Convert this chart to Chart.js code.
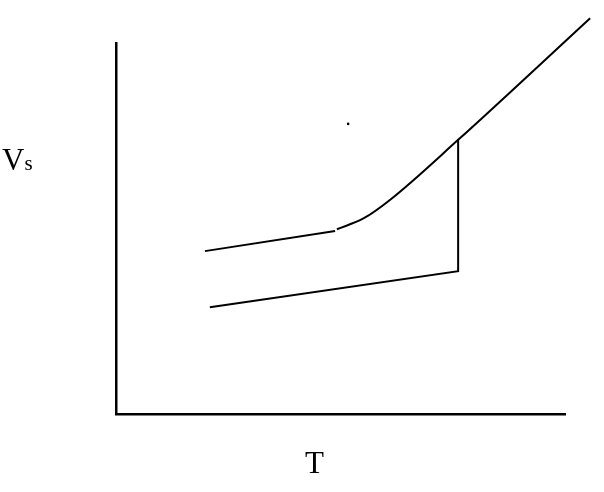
<!DOCTYPE html>
<html lang="en">
<head>
    <meta charset="UTF-8">
    <title>Vs against T</title>
    <script src="https://cdn.jsdelivr.net/npm/chart.js"></script>
<style>
    body { margin: 0; background: #fff; }
    #wrap { position: relative; width: 604px; height: 492px; }
    .lbl {
        position: absolute;
        font-family: "Liberation Serif", "DejaVu Serif", serif;
        font-size: 31px;
        line-height: 31px;
        color: #000;
        white-space: nowrap;
    }
    .lbl sub { font-size: 21px; vertical-align: baseline; }
</style>
</head>
<body>
    <div id="wrap">
        <canvas id="myChart"></canvas>
        <div class="lbl" style="left:2px; top:144px;">V<sub>s</sub></div>
        <div class="lbl" style="left:305px; top:447px;">T</div>
    </div>

    <script>
        // axis ranges (T across, Vs up)
        var tRange = [0, 10];
        var vRange = [0, 10];

        // lower straight branch, then the jump up at the right end
        var lowerT = [2.09, 7.62, 7.62];
        var lowerV = [2.88, 3.85, 7.41];

        // upper straight branch
        var upperT = [1.98, 4.88];
        var upperV = [4.39, 4.93];

        // upper branch bending into the steep line
        var bendT = [4.92, 5.51, 6.10, 7.62, 10.56];
        var bendV = [4.98, 5.27, 5.77, 7.39, 10.67];

        // stray dot
        var dotT = [5.17];
        var dotV = [7.82];

        function pts(xs, ys) {
            return xs.map(function (x, i) { return { x: x, y: ys[i] }; });
        }

        function lineSet(xs, ys, smooth) {
            return {
                data: pts(xs, ys),
                borderColor: '#000',
                borderWidth: 2,
                pointRadius: 0,
                showLine: true,
                fill: false,
                clip: false,
                capBezierPoints: false,
                tension: smooth ? 0.4 : 0,
                cubicInterpolationMode: smooth ? 'monotone' : 'default'
            };
        }

        var data = {
            datasets: [
                lineSet(lowerT, lowerV, false),
                lineSet(upperT, upperV, false),
                lineSet(bendT, bendV, true),
                {
                    data: pts(dotT, dotV),
                    backgroundColor: '#000',
                    borderWidth: 0,
                    pointRadius: 1.3,
                    showLine: false,
                    clip: false
                }
            ]
        };

        var options = {
            responsive: true,
            maintainAspectRatio: false,
            animation: false,
            layout: {
                padding: { left: 108, top: 43, right: 39, bottom: 70 }
            },
            plugins: {
                legend: { display: false },
                tooltip: { enabled: false }
            },
            scales: {
                x: {
                    type: 'linear',
                    min: tRange[0],
                    max: tRange[1],
                    ticks: { display: false },
                    grid: { display: false },
                    border: { display: true, color: '#000', width: 2.5 }
                },
                y: {
                    type: 'linear',
                    min: vRange[0],
                    max: vRange[1],
                    ticks: { display: false },
                    grid: { display: false },
                    border: { display: true, color: '#000', width: 2.5 }
                }
            }
        };

        var ctx = document.getElementById('myChart').getContext('2d');

        var myChart = new Chart(ctx, {
            type: 'scatter',
            data: data,
            options: options
        });
    </script>
</body>
</html>
